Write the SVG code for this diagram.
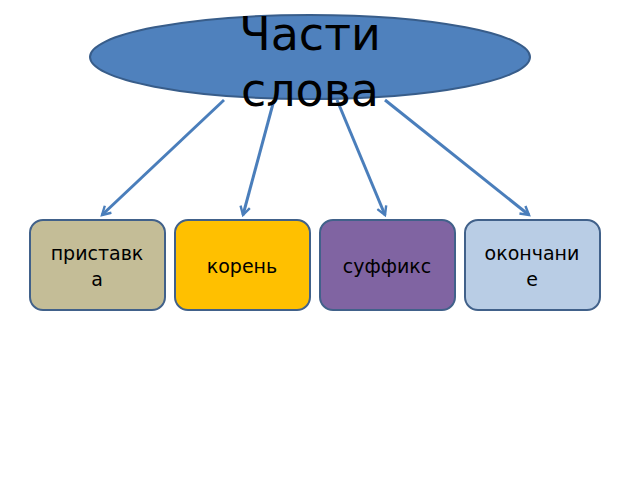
<svg xmlns="http://www.w3.org/2000/svg" width="640" height="480" viewBox="0 0 640 480">
<style>
.b{stroke:#41618a;stroke-width:2}
.t{font-family:"DejaVu Sans",sans-serif;font-size:19px;text-anchor:middle;fill:#000}
.c{stroke:#4a7ebb;stroke-width:3;fill:none;marker-end:url(#a)}
</style>
<defs><marker id="a" viewBox="0 0 10 10" refX="8" refY="5" markerWidth="4" markerHeight="4" orient="auto"><path d="M1,1 L8,5 L1,9" fill="none" stroke="#4a7ebb" stroke-width="2"/></marker></defs>
<rect width="640" height="480" fill="#fff"/>
<g id="connectors">
<line class="c" x1="224" y1="100" x2="102" y2="215"/>
<line class="c" x1="274" y1="100" x2="243" y2="215"/>
<line class="c" x1="337" y1="100" x2="385" y2="215"/>
<line class="c" x1="385" y1="100" x2="529" y2="215"/>
</g>
<g id="root">
<ellipse cx="310" cy="57" rx="220" ry="42" fill="#4f81bd" stroke="#385d8a" stroke-width="2"/>
<text x="310" y="50" style="font-family:'DejaVu Sans',sans-serif;font-size:46px;text-anchor:middle">Части</text>
<text x="310" y="106" style="font-family:'DejaVu Sans',sans-serif;font-size:46px;text-anchor:middle">слова</text>
</g>
<g id="n1"><rect class="b" x="30" y="220" width="135" height="90" rx="13" fill="#c4bd97"/><text class="t" x="97" y="260">приставк</text><text class="t" x="97" y="286">а</text></g>
<g id="n2"><rect class="b" x="175" y="220" width="135" height="90" rx="13" fill="#ffc000"/><text class="t" x="242" y="273">корень</text></g>
<g id="n3"><rect class="b" x="320" y="220" width="135" height="90" rx="13" fill="#8064a2"/><text class="t" x="387" y="273">суффикс</text></g>
<g id="n4"><rect class="b" x="465" y="220" width="135" height="90" rx="13" fill="#b9cde5"/><text class="t" x="532" y="260">окончани</text><text class="t" x="532" y="286">е</text></g>
</svg>
